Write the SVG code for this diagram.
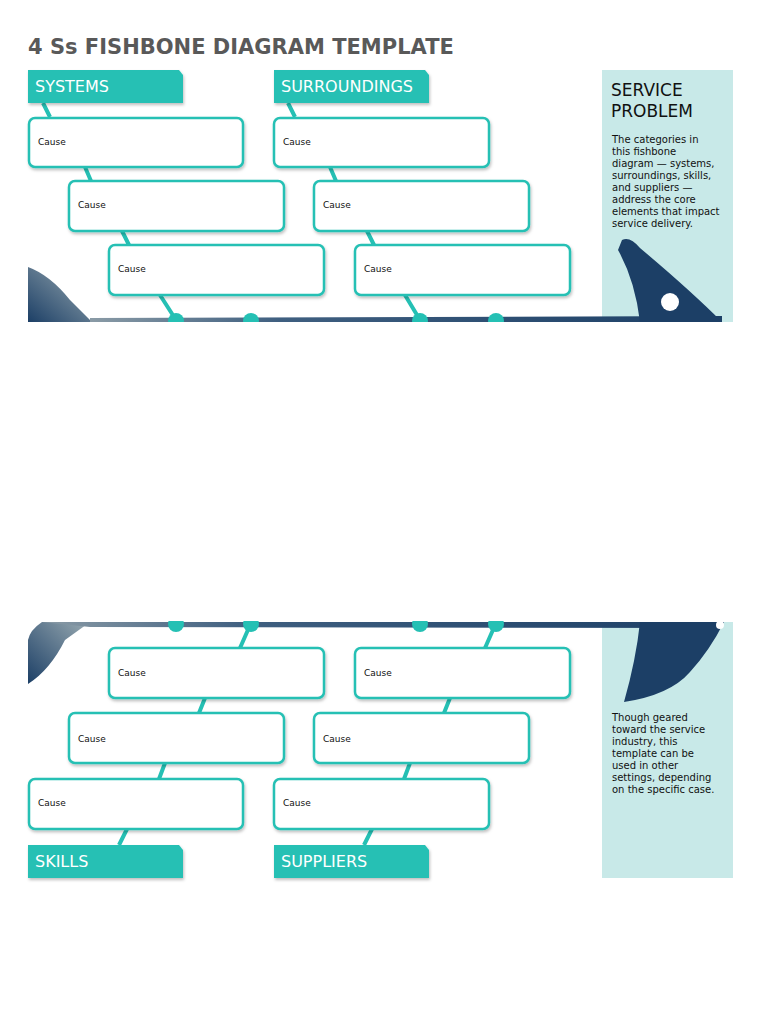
<svg xmlns="http://www.w3.org/2000/svg" width="768" height="1024" viewBox="0 0 768 1024">
<defs>
<linearGradient id="sp" x1="0" x2="1" y1="0" y2="0"><stop offset="0" stop-color="#8a9ba6"/><stop offset="0.3" stop-color="#3f5f80"/><stop offset="1" stop-color="#1c3f66"/></linearGradient>
<linearGradient id="tl" x1="1" y1="0" x2="0" y2="1"><stop offset="0" stop-color="#9aabb2"/><stop offset="1" stop-color="#1c3f66"/></linearGradient>
<filter id="sh" x="-10%" y="-10%" width="120%" height="130%"><feDropShadow dx="1" dy="2" stdDeviation="1.5" flood-color="#000" flood-opacity="0.25"/></filter>
</defs>
<style>
.hd{fill:#25c0b4;filter:url(#sh)}
.ht{font-family:"DejaVu Sans",sans-serif;font-size:16px;fill:#fff}
.bx{fill:#fff;stroke:#25c0b4;stroke-width:2.5;filter:url(#sh)}
.ct{font-family:"DejaVu Sans",sans-serif;font-size:9px;fill:#111}
.ln{stroke:#25c0b4;stroke-width:4;fill:none}
.dt{fill:#25c0b4}
.pt{font-family:"DejaVu Sans",sans-serif;font-size:10px;fill:#111}
</style>
<rect width="768" height="1024" fill="#fff"/>
<text x="28" y="54" font-family="DejaVu Sans,sans-serif" font-size="21" font-weight="bold" fill="#595959">4 Ss FISHBONE DIAGRAM TEMPLATE</text>
<g id="panel-top"><rect x="602" y="70" width="131" height="252" fill="#c8e9e8"/>
<text x="611" y="96" font-family="DejaVu Sans,sans-serif" font-size="17" fill="#111">SERVICE</text>
<text x="611" y="117" font-family="DejaVu Sans,sans-serif" font-size="17" fill="#111">PROBLEM</text>
<text class="pt"><tspan x="612" y="143">The categories in</tspan><tspan x="612" y="155">this fishbone</tspan><tspan x="612" y="167">diagram — systems,</tspan><tspan x="612" y="179">surroundings, skills,</tspan><tspan x="612" y="191">and suppliers —</tspan><tspan x="612" y="203">address the core</tspan><tspan x="612" y="215">elements that impact</tspan><tspan x="612" y="227">service delivery.</tspan></text></g>
<g id="panel-bottom"><rect x="602" y="622" width="131" height="256" fill="#c8e9e8"/>
<text class="pt"><tspan x="612" y="721">Though geared</tspan><tspan x="612" y="733">toward the service</tspan><tspan x="612" y="745">industry, this</tspan><tspan x="612" y="757">template can be</tspan><tspan x="612" y="769">used in other</tspan><tspan x="612" y="781">settings, depending</tspan><tspan x="612" y="793">on the specific case.</tspan></text></g>
<g id="fish">
<path d="M28 267 Q50 275 70 300 L92 322 L28 322 Z" fill="url(#tl)"/>
<path d="M90 318 L722 316 L722 322 L90 322 Z" fill="url(#sp)"/>
<path d="M622 240 Q630 236 640 248 Q690 290 722 322 L640 322 Q635 280 618 250 Z" fill="#1c3f66"/>
<circle cx="670" cy="302" r="9" fill="#fff"/>
<path d="M28 684 Q50 670 65 640 L90 622 L42 622 Q30 630 28 640 Z" fill="url(#tl)"/>
<path d="M42 622 L722 622 L722 628 L90 627 Z" fill="url(#sp)"/>
<path d="M640 622 L724 622 Q710 650 690 672 Q670 695 624 702 Q636 660 640 622 Z" fill="#1c3f66"/>
<circle cx="720" cy="625" r="4" fill="#fff"/>
</g>
<g id="connectors">
<path class="ln" d="M43 103 L50 117 M85 167 L91 181 M122 231 L129 245 M160 295 L176 320"/>
<path class="ln" d="M288 103 L295 117 M330 167 L336 181 M367 231 L374 245 M405 295 L420 320"/>
<path class="ln" d="M251 623 L240 648 M205 698 L199 713 M165 763 L159 779 M127 829 L119 845"/>
<path class="ln" d="M496 623 L485 648 M450 698 L444 713 M410 763 L404 779 M372 829 L364 845"/>
<circle class="dt" cx="176" cy="321" r="8"/><circle class="dt" cx="251" cy="321" r="8"/>
<circle class="dt" cx="420" cy="321" r="8"/><circle class="dt" cx="496" cy="321" r="8"/>
<circle class="dt" cx="176" cy="624" r="8"/><circle class="dt" cx="251" cy="624" r="8"/>
<circle class="dt" cx="420" cy="624" r="8"/><circle class="dt" cx="496" cy="624" r="8"/>
<rect x="0" y="322" width="768" height="299" fill="#fff"/>
</g>
<g id="h-systems"><path class="hd" d="M28 70 L179 70 L183 75 L183 103 L28 103 Z"/><text class="ht" x="35" y="92">SYSTEMS</text></g>
<g id="h-surroundings"><path class="hd" d="M274 70 L425 70 L429 75 L429 103 L274 103 Z"/><text class="ht" x="281" y="92">SURROUNDINGS</text></g>
<g id="h-skills"><path class="hd" d="M28 845 L179 845 L183 850 L183 878 L28 878 Z"/><text class="ht" x="35" y="867">SKILLS</text></g>
<g id="h-suppliers"><path class="hd" d="M274 845 L425 845 L429 850 L429 878 L274 878 Z"/><text class="ht" x="281" y="867">SUPPLIERS</text></g>
<g id="c1"><rect class="bx" x="29" y="118" width="214" height="49" rx="6"/><text class="ct" x="38" y="145">Cause</text></g>
<g id="c2"><rect class="bx" x="69" y="181" width="215" height="50" rx="6"/><text class="ct" x="78" y="208">Cause</text></g>
<g id="c3"><rect class="bx" x="109" y="245" width="215" height="50" rx="6"/><text class="ct" x="118" y="272">Cause</text></g>
<g id="c4"><rect class="bx" x="274" y="118" width="215" height="49" rx="6"/><text class="ct" x="283" y="145">Cause</text></g>
<g id="c5"><rect class="bx" x="314" y="181" width="215" height="50" rx="6"/><text class="ct" x="323" y="208">Cause</text></g>
<g id="c6"><rect class="bx" x="355" y="245" width="215" height="50" rx="6"/><text class="ct" x="364" y="272">Cause</text></g>
<g id="c7"><rect class="bx" x="109" y="648" width="215" height="50" rx="6"/><text class="ct" x="118" y="676">Cause</text></g>
<g id="c8"><rect class="bx" x="355" y="648" width="215" height="50" rx="6"/><text class="ct" x="364" y="676">Cause</text></g>
<g id="c9"><rect class="bx" x="69" y="713" width="215" height="50" rx="6"/><text class="ct" x="78" y="742">Cause</text></g>
<g id="c10"><rect class="bx" x="314" y="713" width="215" height="50" rx="6"/><text class="ct" x="323" y="742">Cause</text></g>
<g id="c11"><rect class="bx" x="29" y="779" width="214" height="50" rx="6"/><text class="ct" x="38" y="806">Cause</text></g>
<g id="c12"><rect class="bx" x="274" y="779" width="215" height="50" rx="6"/><text class="ct" x="283" y="806">Cause</text></g>
</svg>
